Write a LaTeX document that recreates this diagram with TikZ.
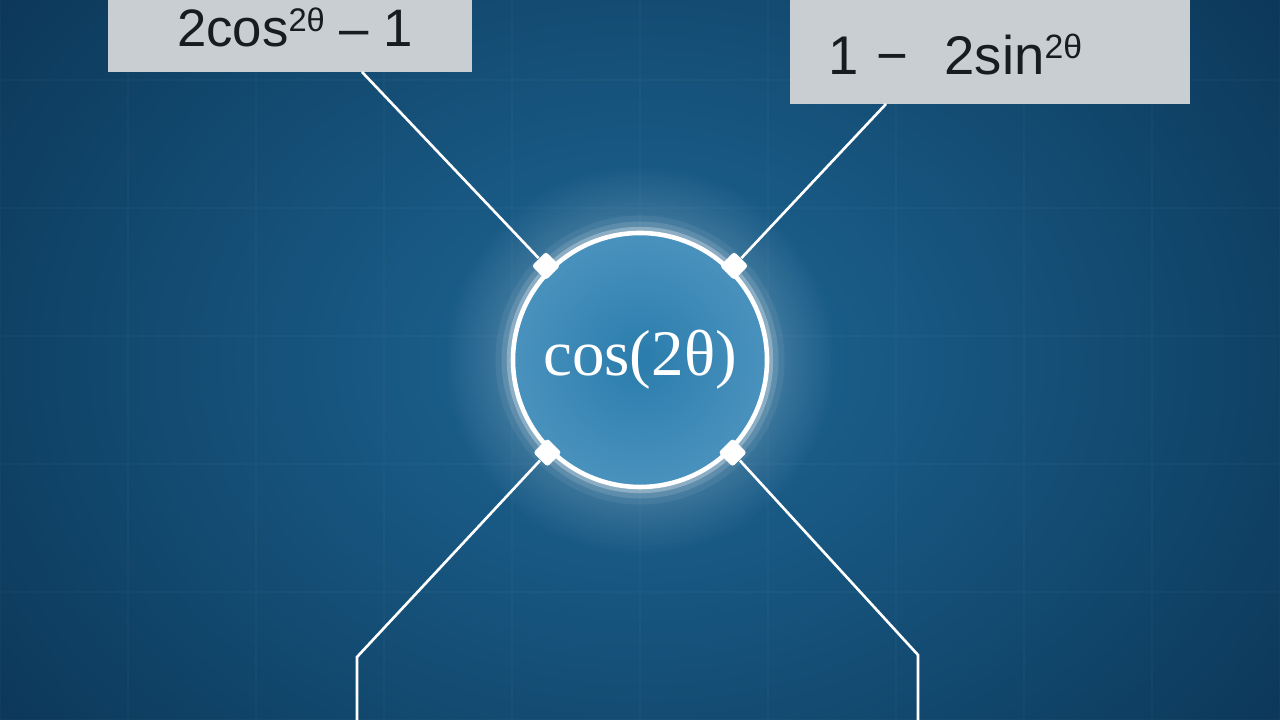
\documentclass[tikz,border=0pt]{standalone}
\usepackage{fontspec}
\setmainfont{Liberation Sans}
\newfontfamily\serifface{Liberation Serif}
\usepackage{xcolor}
\usepackage{tikz}
\usetikzlibrary{fadings}
\definecolor{bgdark}{RGB}{12, 56, 90}
\definecolor{bgmid}{RGB}{30, 104, 150}
\definecolor{hubblue}{RGB}{42, 124, 172}
\definecolor{hubedge}{RGB}{74, 146, 190}
\definecolor{boxgray}{RGB}{201, 206, 211}
\definecolor{inkdark}{RGB}{24, 27, 31}

\makeatletter
\newcommand{\lowsup}[1]{\raisebox{0.3em}{\fontsize{\dimexpr0.62\dimexpr\f@size pt\relax\relax}{1em}\selectfont #1}}
\makeatother

\tikzfading[name=glowfade, inner color=transparent!0, outer color=transparent!100]

\tikzset{
  wire/.style={white, line width=0.75pt},
  plug/.style={rectangle, fill=white, rounded corners=0.8pt, minimum width=0.2cm, minimum height=0.2cm, inner sep=0pt, rotate=45},
  hub/.style={circle, minimum size=2.54cm, inner sep=0pt, draw=white, line width=1.3pt,
    inner color=hubblue, outer color=hubedge, text=white, font=\serifface\fontsize{18.5}{20}\selectfont},
  formbox/.style={rectangle, fill=boxgray, text=inkdark, inner sep=0pt, text height=0.6cm, text depth=0.1cm},
}

\begin{document}
\begin{tikzpicture}
\useasboundingbox (0,0) rectangle (12.8,7.2);
\clip (0,0) rectangle (12.8,7.2);

% Background
\shade[inner color=bgmid, outer color=bgdark] (-1.5,-2.5) rectangle (14.3,9.7);
\draw[white, opacity=0.025, line width=0.4pt, step=1.28] (0,0) grid (12.8,7.2);

% Glow round the hub
\fill[white, opacity=0.5, path fading=glowfade] (6.4,3.6) circle (1.95);
\foreach \w/\o in {10/0.06, 6.5/0.12, 3.5/0.28} {
    \draw[white, opacity=\o, line width=\w pt] (6.4,3.6) circle (1.27);
}

% Hub and its plugs
\node[hub] (main) at (6.4,3.6) {cos(2θ)};
\node[plug] (pNW) at ([shift={(135:1.33)}]main.center) {};
\node[plug] (pNE) at ([shift={(45:1.33)}]main.center) {};
\node[plug] (pSW) at ([shift={(225:1.31)}]main.center) {};
\node[plug] (pSE) at ([shift={(315:1.31)}]main.center) {};

% Formula boxes
\node[formbox, minimum width=3.64cm, minimum height=1.0cm, font=\fontsize{15}{18}\selectfont]
    (dbl) at (2.9,6.98) {\hspace{0.1cm}2cos\lowsup{2θ} – 1};
\node[formbox, minimum width=4.0cm, minimum height=1.08cm, text width=3.24cm, align=left,
    inner xsep=0.38cm, font=\fontsize{15.5}{19}\selectfont]
    (sgl) at (9.9,6.7) {1 −\ \ 2sin\lowsup{2θ}};

% Ends of the wires
\coordinate (dblfoot) at (3.62,6.48);
\coordinate (sglfoot) at (8.86,6.16);
\coordinate (lbend) at (3.57,0.63);
\coordinate (lend) at (3.57,-0.1);
\coordinate (rbend) at (9.18,0.65);
\coordinate (rend) at (9.18,-0.1);

% Wires
\draw[wire] (pNW) -- (dblfoot);
\draw[wire] (pNE) -- (sglfoot);
\draw[wire] (pSW) -- (lbend) -- (lend);
\draw[wire] (pSE) -- (rbend) -- (rend);
\end{tikzpicture}
\end{document}
